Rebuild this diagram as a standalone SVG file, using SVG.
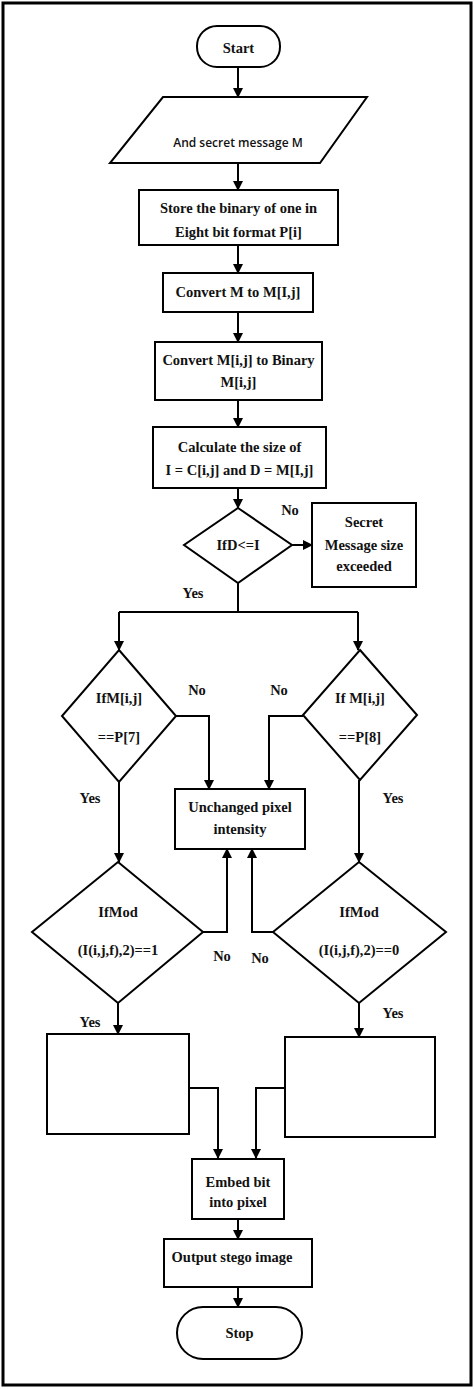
<svg xmlns="http://www.w3.org/2000/svg" width="474" height="1389" viewBox="0 0 474 1389">
<defs>
<marker id="ah" markerWidth="10" markerHeight="10" refX="9" refY="5" orient="auto" markerUnits="userSpaceOnUse">
<path d="M0,0 L10,5 L0,10 z" fill="#000"/>
</marker>
<style>
.s{fill:#fff;stroke:#000;stroke-width:2}
.t{font-family:"Liberation Serif","Times New Roman",serif;font-weight:bold;font-size:14.5px;text-anchor:middle;fill:#111}
.c{font-family:"Open Sans","Liberation Sans",sans-serif;font-weight:600;font-size:12px;text-anchor:middle;fill:#111}
.l{fill:none;stroke:#000;stroke-width:2}
.a{fill:none;stroke:#000;stroke-width:2;marker-end:url(#ah)}
</style>
</defs>
<rect x="0" y="0" width="474" height="1389" fill="#fff"/>
<rect x="3" y="3" width="468" height="1382" fill="none" stroke="#000" stroke-width="3"/>

<g id="connectors">
<line class="a" x1="238" y1="67" x2="238" y2="97"/>
<line class="a" x1="238" y1="163" x2="238" y2="190"/>
<line class="a" x1="238" y1="245" x2="238" y2="273"/>
<line class="a" x1="238" y1="312" x2="238" y2="342"/>
<line class="a" x1="238" y1="400" x2="238" y2="427"/>
<line class="a" x1="238" y1="488" x2="238" y2="508"/>
<line class="a" x1="292" y1="545" x2="312" y2="545"/>
<polyline class="l" points="238,583 238,612"/>
<line class="l" x1="119" y1="612" x2="358" y2="612"/>
<line class="a" x1="119" y1="612" x2="119" y2="650"/>
<line class="a" x1="358" y1="612" x2="358" y2="650"/>
<polyline class="a" points="176,716 209,716 209,789"/>
<polyline class="a" points="303,716 269,716 269,789"/>
<line class="a" x1="119" y1="782" x2="119" y2="862"/>
<line class="a" x1="359" y1="780" x2="359" y2="862"/>
<polyline class="a" points="203,932 227,932 227,849"/>
<polyline class="a" points="273,932 252,932 252,849"/>
<line class="a" x1="118" y1="1003" x2="118" y2="1034"/>
<line class="a" x1="359" y1="1003" x2="359" y2="1037"/>
<polyline class="a" points="189,1088 218,1088 218,1158"/>
<polyline class="a" points="285,1088 256,1088 256,1158"/>
<line class="a" x1="238" y1="1219" x2="238" y2="1239"/>
<line class="a" x1="238" y1="1287" x2="238" y2="1307"/>
</g>

<g id="start">
<rect class="s" x="197" y="26" width="83" height="41" rx="20"/>
<text class="t" x="238.5" y="53">Start</text>
</g>
<g id="input">
<polygon class="s" points="163,97 367,97 320,163 110,163"/>
<text class="c" x="238" y="147">And secret message M</text>
</g>
<g id="store">
<rect class="s" x="139" y="190" width="199" height="55"/>
<text class="t" x="238.5" y="213">Store the binary of one in</text>
<text class="t" x="238.5" y="237">Eight bit format P[i]</text>
</g>
<g id="convert1">
<rect class="s" x="163" y="273" width="150" height="39"/>
<text class="t" x="238" y="297">Convert M to M[I,j]</text>
</g>
<g id="convert2">
<rect class="s" x="155" y="342" width="167" height="58"/>
<text class="t" x="238.5" y="365">Convert M[i,j] to Binary</text>
<text class="t" x="238.5" y="387">M[i,j]</text>
</g>
<g id="calc">
<rect class="s" x="153" y="427" width="173" height="61"/>
<text class="t" x="239.5" y="452">Calculate the size of</text>
<text class="t" x="239.5" y="475">I = C[i,j] and D = M[I,j]</text>
</g>
<g id="dsize">
<polygon class="s" points="238,508 292,545 238,583 184,545"/>
<text class="t" x="238" y="550">IfD&lt;=I</text>
</g>
<g id="exceeded">
<rect class="s" x="312" y="503" width="104" height="84"/>
<text class="t" x="364" y="527">Secret</text>
<text class="t" x="364" y="550">Message size</text>
<text class="t" x="364" y="571">exceeded</text>
</g>
<g id="dleft">
<polygon class="s" points="119,650 176,716 119,782 62,716"/>
<text class="t" x="119" y="703">IfM[i,j]</text>
<text class="t" x="119" y="742">==P[7]</text>
</g>
<g id="dright">
<polygon class="s" points="360,650 417,715 360,780 303,715"/>
<text class="t" x="360" y="703">If M[i,j]</text>
<text class="t" x="360" y="742">==P[8]</text>
</g>
<g id="unchanged">
<rect class="s" x="175" y="789" width="130" height="60"/>
<text class="t" x="240" y="812">Unchanged pixel</text>
<text class="t" x="240" y="834">intensity</text>
</g>
<g id="modleft">
<polygon class="s" points="118,862 203,932 118,1003 32,932"/>
<text class="t" x="118" y="917">IfMod</text>
<text class="t" x="118" y="955">(I(i,j,f),2)==1</text>
</g>
<g id="modright">
<polygon class="s" points="359,862 446,932 359,1003 273,932"/>
<text class="t" x="359" y="917">IfMod</text>
<text class="t" x="359" y="955">(I(i,j,f),2)==0</text>
</g>
<g id="boxleft">
<rect class="s" x="47" y="1034" width="142" height="100"/>
</g>
<g id="boxright">
<rect class="s" x="285" y="1037" width="150" height="100"/>
</g>
<g id="embed">
<rect class="s" x="192" y="1159" width="92" height="60"/>
<text class="t" x="238" y="1187">Embed bit</text>
<text class="t" x="238" y="1207">into pixel</text>
</g>
<g id="output">
<rect class="s" x="164" y="1239" width="148" height="48"/>
<text class="t" x="232" y="1262">Output stego image</text>
</g>
<g id="stop">
<rect class="s" x="177" y="1307" width="125" height="52" rx="26"/>
<text class="t" x="239.5" y="1338">Stop</text>
</g>

<g id="labels">
<text class="t" x="290" y="515">No</text>
<text class="t" x="193" y="598">Yes</text>
<text class="t" x="197" y="695">No</text>
<text class="t" x="279" y="695">No</text>
<text class="t" x="90" y="803">Yes</text>
<text class="t" x="393" y="803">Yes</text>
<text class="t" x="222" y="961">No</text>
<text class="t" x="260" y="963">No</text>
<text class="t" x="90" y="1027">Yes</text>
<text class="t" x="393" y="1018">Yes</text>
</g>
</svg>
